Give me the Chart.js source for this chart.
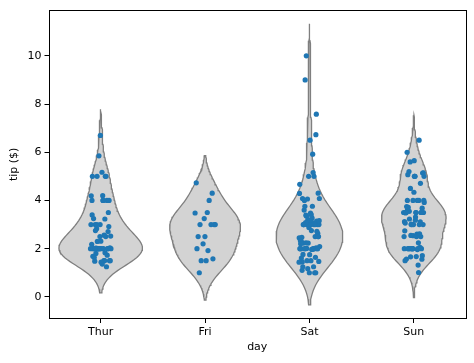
<!DOCTYPE html>
<html>
<head>
<meta charset="utf-8">
<script src="https://cdn.jsdelivr.net/npm/chart.js@4.4.1/dist/chart.umd.min.js"></script>
<style>
  html, body { margin: 0; padding: 0; background: #fff; }
  #wrap { width: 474px; height: 363px; }
</style>
</head>
<body>
<div id="wrap"><canvas id="c" width="474" height="363"></canvas></div>
<script>
// tips dataset, tip column grouped by day
var days = ['Thur', 'Fri', 'Sat', 'Sun'];

var thurTips = [4.00, 3.00, 2.71, 3.00, 3.40, 1.83, 5.00, 2.03, 5.17, 2.00, 4.00, 5.85, 3.00,
  1.50, 1.80, 2.92, 2.31, 1.68, 2.50, 2.00, 2.52, 4.20, 1.48, 2.00, 2.00, 2.18, 1.50, 2.83,
  1.50, 2.00, 3.25, 1.25, 2.00, 2.00, 2.00, 2.75, 3.50, 6.70, 5.00, 5.00, 2.30, 1.50, 1.36,
  1.63, 1.73, 2.00, 4.19, 2.56, 2.02, 4.00, 1.44, 2.00, 5.00, 2.00, 2.00, 4.00, 2.01, 2.00,
  2.50, 4.00, 3.23, 3.00];
var friTips = [3.00, 3.50, 1.00, 4.30, 3.25, 4.73, 4.00, 1.50, 3.00, 1.50, 2.50, 3.00,
  2.20, 3.48, 1.92, 3.00, 1.58, 2.50, 2.00];
var satTips = [3.35, 4.08, 2.75, 2.23, 7.58, 3.18, 2.34, 2.00, 2.00, 4.30, 3.00, 1.45, 2.50,
  3.00, 2.45, 3.27, 3.60, 2.00, 3.07, 2.31, 5.00, 2.24, 3.00, 1.50, 1.76, 6.73, 3.21, 2.00,
  1.98, 3.76, 2.64, 3.15, 2.47, 1.00, 2.01, 2.09, 1.97, 3.00, 3.14, 5.00, 2.20, 1.25, 3.08,
  2.50, 3.48, 4.08, 1.64, 4.06, 4.29, 3.76, 4.00, 3.00, 1.00, 1.61, 2.00, 10.00, 3.16,
  3.41, 3.00, 2.03, 2.23, 2.00, 5.16, 9.00, 2.50, 6.50, 1.10, 3.00, 1.50, 1.44, 3.09,
  3.00, 2.72, 2.88, 2.00, 3.00, 3.39, 1.47, 3.00, 1.25, 1.00, 1.17, 4.67, 5.92, 2.00,
  2.00, 1.75];
var sunTips = [1.01, 1.66, 3.50, 3.31, 3.61, 4.71, 2.00, 3.12, 1.96, 3.23, 1.71, 5.00, 1.57,
  3.00, 3.02, 3.92, 1.67, 3.71, 3.50, 2.54, 3.06, 1.32, 5.60, 3.00, 5.00, 6.00, 2.05, 3.00,
  2.50, 2.60, 5.20, 1.56, 4.34, 3.51, 4.00, 2.55, 4.00, 3.50, 5.07, 2.50, 2.00, 2.74, 2.00,
  2.00, 5.14, 5.00, 3.75, 2.61, 2.00, 3.50, 2.50, 2.00, 2.00, 3.00, 3.48, 2.24, 4.50, 5.15,
  3.18, 4.00, 3.11, 2.00, 2.00, 4.00, 3.55, 3.68, 5.65, 3.50, 6.50, 3.00, 5.00, 3.50, 2.00,
  3.50, 4.00, 1.50];

var yTickValues = [0, 2, 4, 6, 8, 10];

var groups = [thurTips, friTips, satTips, sunTips];
var GRID = 100, CUT = 2, HALF_WIDTH = 0.4;

function stdDev(arr) {
  var m = arr.reduce(function (a, b) { return a + b; }, 0) / arr.length;
  var s = arr.reduce(function (a, b) { return a + (b - m) * (b - m); }, 0);
  return Math.sqrt(s / (arr.length - 1));
}

// gaussian kde, scott bandwidth (same as seaborn's default)
function kde(arr) {
  var bw = stdDev(arr) * Math.pow(arr.length, -0.2);
  var lo = Math.min.apply(null, arr) - CUT * bw;
  var hi = Math.max.apply(null, arr) + CUT * bw;
  var ys = [], dens = [];
  for (var i = 0; i < GRID; i += 1) {
    var y = lo + (hi - lo) * i / (GRID - 1);
    var d = 0;
    for (var j = 0; j < arr.length; j += 1) {
      var z = (y - arr[j]) / bw;
      d += Math.exp(-0.5 * z * z);
    }
    ys.push(y);
    dens.push(d / (arr.length * bw * Math.sqrt(2 * Math.PI)));
  }
  return { ys: ys, dens: dens, lo: lo, hi: hi };
}

var kdes = groups.map(kde);
var maxDens = Math.max.apply(null, kdes.map(function (k) { return Math.max.apply(null, k.dens); }));
var yLo = Math.min.apply(null, kdes.map(function (k) { return k.lo; }));
var yHi = Math.max.apply(null, kdes.map(function (k) { return k.hi; }));
var yPad = (yHi - yLo) * 0.05;

var datasets = [];
kdes.forEach(function (k, gi) {
  var pts = [];
  for (var i = 0; i < k.ys.length; i += 1) {
    pts.push({ x: gi + k.dens[i] / maxDens * HALF_WIDTH, y: k.ys[i] });
  }
  for (var i2 = k.ys.length - 1; i2 >= 0; i2 -= 1) {
    pts.push({ x: gi - k.dens[i2] / maxDens * HALF_WIDTH, y: k.ys[i2] });
  }
  pts.push(pts[0]);
  datasets.push({
    data: pts,
    showLine: true,
    fill: 'shape',
    backgroundColor: '#d3d3d3',
    borderColor: '#7f7f7f',
    borderWidth: 1.3,
    pointRadius: 0,
    tension: 0,
    order: 2,
  });
});

// strip points, fixed horizontal spread within +-0.1 of the category
groups.forEach(function (arr, gi) {
  datasets.push({
    data: arr.map(function (v, i) {
      var jit = (((i + 1) * 0.6180339887 + gi * 0.37) % 1 - 0.5) * 0.2;
      return { x: gi + jit, y: v };
    }),
    showLine: false,
    pointRadius: 2.6,
    pointBorderWidth: 0,
    pointBackgroundColor: '#1f77b4',
    pointBorderColor: '#1f77b4',
    order: 1,
  });
});

var frame = {
  id: 'frame',
  afterDraw: function (chart) {
    var a = chart.chartArea, ctx = chart.ctx;
    ctx.save();
    ctx.strokeStyle = '#000';
    ctx.lineWidth = 1;
    ctx.strokeRect(Math.round(a.left) + 0.5, Math.round(a.top) + 0.5,
      Math.round(a.right - a.left) - 1, Math.round(a.bottom - a.top) - 1);
    ctx.restore();
  },
};

Chart.defaults.font.family = '"DejaVu Sans", sans-serif';
Chart.defaults.font.size = 11;
Chart.defaults.color = '#000';

new Chart(document.getElementById('c'), {
  type: 'scatter',
  data: { datasets: datasets },
  options: {
    responsive: false,
    animation: false,
    events: [],
    layout: { padding: { top: 7, right: 8, left: 0, bottom: 0 } },
    plugins: { legend: { display: false }, tooltip: { enabled: false } },
    scales: {
      x: {
        type: 'linear',
        min: -0.5,
        max: 3.5,
        afterBuildTicks: function (s) {
          s.ticks = days.map(function (d, i) { return { value: i }; });
        },
        afterFit: function (s) { s.height = 363 - 319; },
        ticks: {
          autoSkip: false,
          maxRotation: 0,
          padding: 3,
          callback: function (v) { return days[v]; },
          font: { size: 11 },
        },
        grid: { drawOnChartArea: false, tickLength: 4, tickColor: '#000', tickWidth: 1 },
        border: { display: false },
        title: { display: true, text: 'day', padding: { top: 1, bottom: 9 }, font: { size: 11 } },
      },
      y: {
        min: yLo - yPad,
        max: yHi + yPad,
        afterBuildTicks: function (s) {
          s.ticks = yTickValues.map(function (v) { return { value: v }; });
        },
        afterFit: function (s) { s.width = 48.5; },
        ticks: { padding: 3, font: { size: 11 } },
        grid: { drawOnChartArea: false, tickLength: 4, tickColor: '#000', tickWidth: 1 },
        border: { display: false },
        title: { display: true, text: 'tip ($)', padding: { top: 8, bottom: 4 }, font: { size: 11 } },
      },
    },
  },
  plugins: [frame],
});
</script>
</body>
</html>
